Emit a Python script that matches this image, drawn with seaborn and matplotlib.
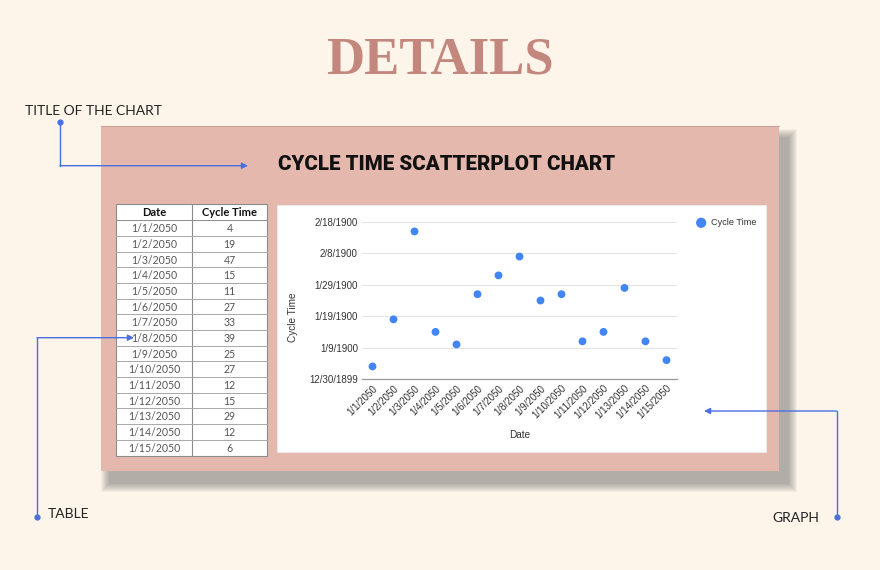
import datetime as dt

import matplotlib.pyplot as plt
import pandas as pd
import seaborn as sns
from matplotlib.patches import Rectangle
from matplotlib.ticker import FuncFormatter

# data shown in the table and in the scatter
dates = ['1/1/2050', '1/2/2050', '1/3/2050', '1/4/2050', '1/5/2050',
         '1/6/2050', '1/7/2050', '1/8/2050', '1/9/2050', '1/10/2050',
         '1/11/2050', '1/12/2050', '1/13/2050', '1/14/2050', '1/15/2050']
cycle_times = [4, 19, 47, 15, 11, 27, 33, 39, 25, 27, 12, 15, 29, 12, 6]
y_ticks = [0, 10, 20, 30, 40, 50]
table_header = ['Date', 'Cycle Time']

BG = '#FDF5EA'
PANEL = '#E5B8AE'
DOT = '#4285F4'
ARROW = '#4A6FE0'

sns.set_style('white')
plt.rcParams['font.family'] = ['Liberation Sans', 'DejaVu Sans']

fig = plt.figure(figsize=(8.8, 5.7), dpi=100)
fig.patch.set_facecolor(BG)

# background layer in pixel coords (y goes down)
bg = fig.add_axes([0, 0, 1, 1])
bg.set_xlim(0, 880)
bg.set_ylim(570, 0)
bg.axis('off')

bg.text(440, 73, 'DETAILS', family='Liberation Serif', weight='bold', fontsize=38,
        color='#C4877E', ha='center', va='baseline')

# panel + soft shadow
px0, py0, pw, ph = 100.5, 126, 678, 344.5
for k in range(1, 10):
    bg.add_patch(Rectangle((px0 + 9 - k, py0 + 12 - k), pw + 2 * k, ph + 2 * k,
                           fc='#4a4a4a', ec='none', alpha=0.055, zorder=1))
bg.add_patch(Rectangle((px0, py0), pw, ph, fc=PANEL, ec='none', zorder=2))
bg.plot([px0, px0 + pw], [py0, py0], color='#c9a199', lw=0.8, zorder=2)

bg.text(447, 170, 'CYCLE TIME SCATTERPLOT CHART', family='Roboto', weight='black',
        fontsize=14.8, color='#111111', ha='center', va='baseline', zorder=3)

# white graph area
bg.add_patch(Rectangle((276.5, 205), 489.5, 246.5, fc='white', ec='#eeeeee', lw=0.6, zorder=3))

# table
tx0, tmid, tx1 = 116, 192, 267
ty0, thead, ty1 = 204.3, 220.3, 455.5
row_h = (ty1 - thead) / len(dates)
bg.add_patch(Rectangle((tx0, ty0), tx1 - tx0, ty1 - ty0, fc='white', ec='#8c8c8c', lw=0.8, zorder=3))
bg.plot([tmid, tmid], [ty0, ty1], color='#8c8c8c', lw=0.8, zorder=4)
for i in range(len(dates)):
    yy = thead + i * row_h
    bg.plot([tx0, tx1], [yy, yy], color='#a8a8a8' if i else '#8c8c8c', lw=0.7, zorder=4)
bg.text((tx0 + tmid) / 2, (ty0 + thead) / 2 + 0.5, table_header[0], family='Lato', weight='bold',
        fontsize=8, color='#111', ha='center', va='center', zorder=5)
bg.text((tmid + tx1) / 2, (ty0 + thead) / 2 + 0.5, table_header[1], family='Lato', weight='bold',
        fontsize=8, color='#111', ha='center', va='center', zorder=5)
for i, (d, v) in enumerate(zip(dates, cycle_times)):
    yc = thead + (i + 0.5) * row_h + 0.5
    bg.text((tx0 + tmid) / 2, yc, d, family='Lato', fontsize=7.6, color='#555',
            ha='center', va='center', zorder=5)
    bg.text((tmid + tx1) / 2, yc, str(v), family='Lato', fontsize=7.6, color='#555',
            ha='center', va='center', zorder=5)

# callouts
arrow_kw = dict(arrowstyle='-|>', color=ARROW, lw=1, mutation_scale=9, shrinkA=0, shrinkB=0)

bg.text(25, 115, 'TITLE OF THE CHART', family='Lato', fontsize=10, color='#222', va='baseline')
bg.plot([60, 60], [121.7, 165.7], color=ARROW, lw=1, zorder=6)
bg.plot(60, 121.7, 'o', ms=3.5, color=ARROW, zorder=6)
bg.annotate('', xy=(248, 165.7), xytext=(60, 165.7), arrowprops=arrow_kw, zorder=6)

bg.text(48, 518, 'TABLE', family='Lato', fontsize=10, color='#222', va='baseline')
bg.plot([37, 37], [516.7, 337.7], color=ARROW, lw=1, zorder=6)
bg.plot(37, 516.7, 'o', ms=3.5, color=ARROW, zorder=6)
bg.annotate('', xy=(134, 337.7), xytext=(37, 337.7), arrowprops=arrow_kw, zorder=6)

bg.text(772, 522.5, 'GRAPH', family='Lato', fontsize=10, color='#222', va='baseline')
bg.plot([836.7, 836.7], [516.7, 411], color=ARROW, lw=1, zorder=6)
bg.plot(836.7, 516.7, 'o', ms=3.5, color=ARROW, zorder=6)
bg.annotate('', xy=(704, 411), xytext=(836.7, 411), arrowprops=arrow_kw, zorder=6)

# scatter chart
df = pd.DataFrame({'Date': dates, 'Cycle Time': cycle_times})
ax = fig.add_axes([362 / 880, 1 - 379 / 570, 315 / 880, 157 / 570])
ax.set_facecolor('none')
sns.scatterplot(data=df, x='Date', y='Cycle Time', ax=ax, color=DOT, s=32,
                edgecolor='none', label='Cycle Time', clip_on=False, zorder=3)
ax.set_xlim(-0.5, len(dates) - 0.5)
ax.set_ylim(0, 50)
ax.set_yticks(y_ticks)


def as_sheet_date(v, pos):
    d = dt.date(1899, 12, 30) + dt.timedelta(days=int(round(v)))
    return f'{d.month}/{d.day}/{d.year}'


ax.yaxis.set_major_formatter(FuncFormatter(as_sheet_date))
ax.set_axisbelow(True)
ax.grid(axis='y', color='#e4e4e4', lw=0.8)
ax.grid(axis='x', visible=False)
for s in ['top', 'right', 'left']:
    ax.spines[s].set_visible(False)
ax.spines['bottom'].set_color('#9a9a9a')
ax.spines['bottom'].set_linewidth(0.9)
ax.tick_params(length=0, labelsize=7, colors='#333', pad=3)
plt.setp(ax.get_xticklabels(), rotation=45, ha='right', rotation_mode='anchor')

ax.set_xlabel('Date', fontsize=7.2, color='#333')
ax.set_ylabel('Cycle Time', fontsize=7.2, color='#333')
ax.xaxis.set_label_coords(0.5, -(435 - 379) / 157)
ax.yaxis.set_label_coords((293 - 362) / 315, (379 - 317) / 157)
ax.xaxis.label.set_va('center')
ax.yaxis.label.set_va('center')

ax.legend(loc='center left', bbox_to_anchor=(692 / 880, 1 - 222.7 / 570),
          bbox_transform=fig.transFigure, frameon=False, borderpad=0,
          handlelength=1, handletextpad=0.6, markerscale=1.3, fontsize=6.6,
          labelcolor='#333')

fig.savefig('out.png', dpi=100, facecolor=BG)
